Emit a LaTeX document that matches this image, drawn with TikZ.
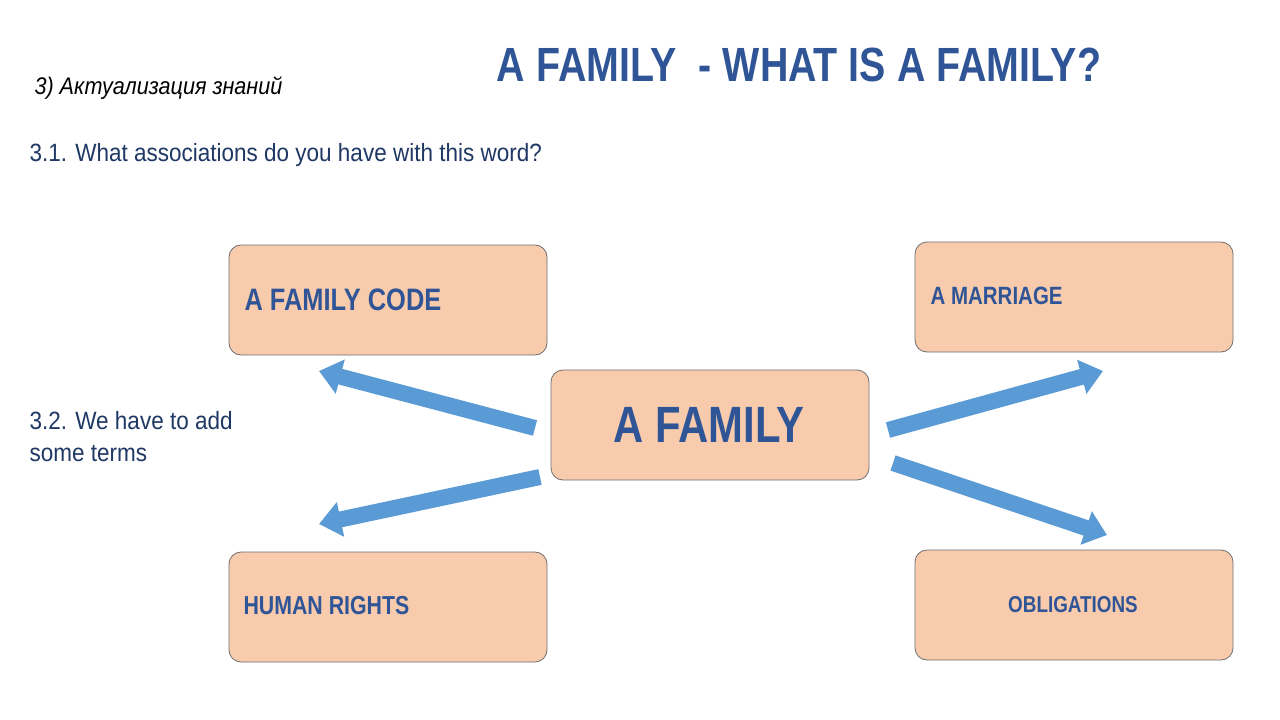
\documentclass[tikz,border=0pt]{standalone}
\usepackage{fontspec}
\setmainfont[FakeStretch=0.82]{Liberation Sans}
\newfontfamily\widerfont[FakeStretch=0.9]{Liberation Sans}
\usetikzlibrary{arrows.meta}
\definecolor{boxfill}{HTML}{F8CBAD}
\definecolor{boxline}{HTML}{6F6F6F}
\definecolor{ttl}{HTML}{2F5597}
\definecolor{txt}{HTML}{1F3864}
\definecolor{arr}{HTML}{5B9BD5}
\tikzset{
 box/.style={draw=boxline,fill=boxfill,rounded corners=12pt,minimum width=318pt,minimum height=110pt,line width=0.8pt},
 lbl/.style={text=ttl,font=\bfseries,anchor=west},
 blockarr/.style={draw=arr,line width=16pt,-{Triangle[width=34pt,length=22pt]}},
 plain/.style={anchor=west,text=txt,align=left}
}
\begin{document}
\begin{tikzpicture}[x=1pt,y=-1pt]
\useasboundingbox[fill=white] (0,0) rectangle (1280,720);
\node[text=ttl,font=\bfseries\fontsize{48}{48}\selectfont] (title) at (799,65) {A FAMILY \ - WHAT IS A FAMILY?};
\node[anchor=west,font=\widerfont\itshape\fontsize{24}{24}\selectfont] (sec) at (31,88) {3) Актуализация знаний};
\node[plain,font=\widerfont\fontsize{25}{25}\selectfont] (q1) at (26,155) {3.1. What associations do you have with this word?};
\node[plain,font=\widerfont\fontsize{25}{32}\selectfont] (q2) at (26,437) {3.2. We have to add\\some terms};
\node[box] (code) at (388,300) {};
\node[lbl,font=\bfseries\fontsize{31}{31}\selectfont] at (241,300) {A FAMILY CODE};
\node[box] (mar) at (1074,297) {};
\node[lbl,font=\bfseries\fontsize{25}{25}\selectfont] at (927,296) {A MARRIAGE};
\node[box] (fam) at (710,425) {};
\node[text=ttl,font=\bfseries\fontsize{51}{51}\selectfont] at (709,425) {A FAMILY};
\node[box] (hum) at (388,607) {};
\node[lbl,font=\bfseries\fontsize{26}{26}\selectfont] at (240,606) {HUMAN RIGHTS};
\node[box] (obl) at (1074,605) {};
\node[text=ttl,font=\bfseries\fontsize{23}{23}\selectfont] at (1073,605) {OBLIGATIONS};
\coordinate (a1s) at (535,428); \coordinate (a1e) at (319,371);
\coordinate (a2s) at (540,477); \coordinate (a2e) at (319,524);
\coordinate (a3s) at (888,430); \coordinate (a3e) at (1103,371);
\coordinate (a4s) at (893,463); \coordinate (a4e) at (1107,535);
\draw[blockarr] (a1s) -- (a1e);
\draw[blockarr] (a2s) -- (a2e);
\draw[blockarr] (a3s) -- (a3e);
\draw[blockarr] (a4s) -- (a4e);
\end{tikzpicture}
\end{document}
